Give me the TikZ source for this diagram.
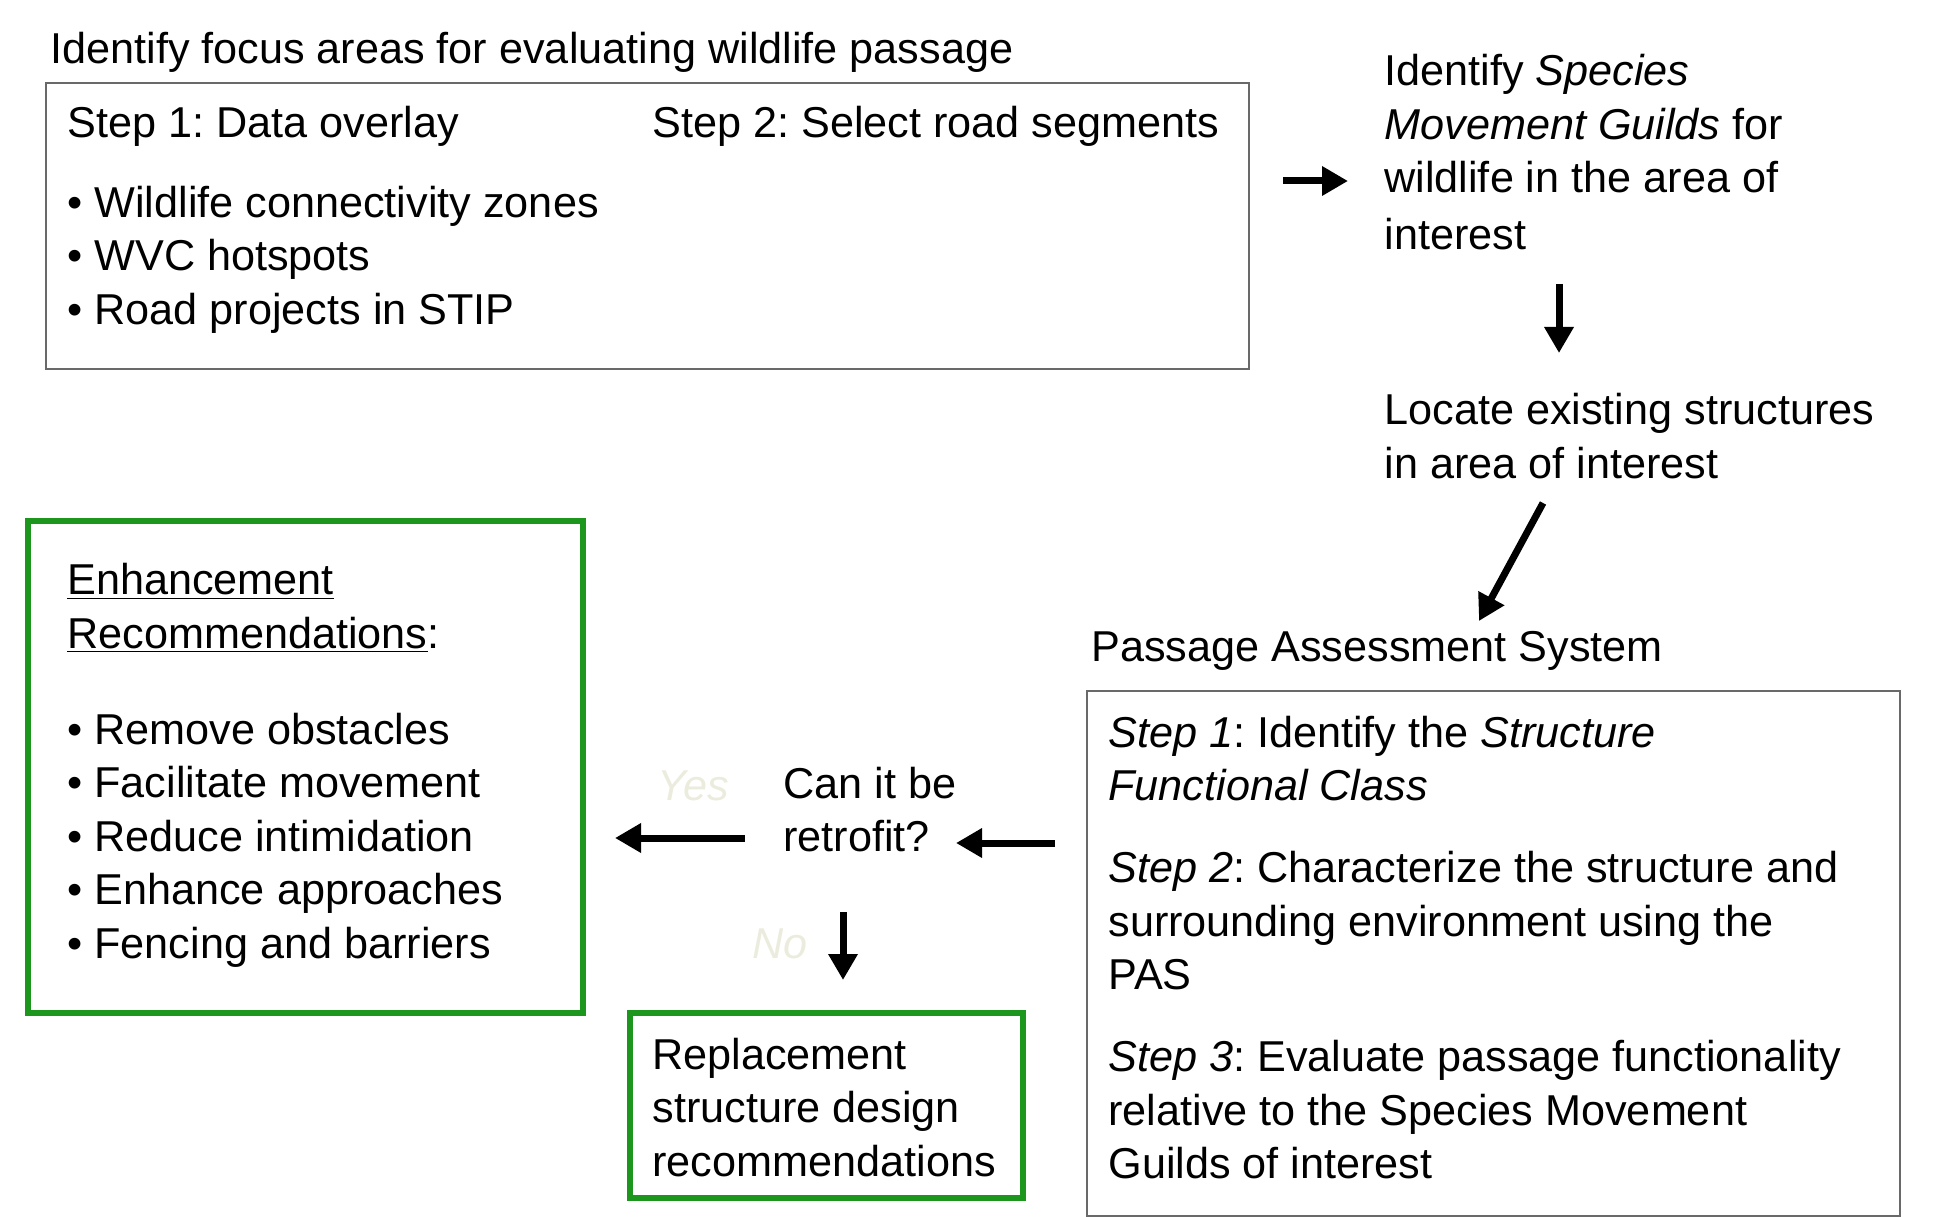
\documentclass[tikz,border=0pt]{standalone}
\usepackage{fontspec}
\setmainfont{Liberation Sans}
\usetikzlibrary{arrows.meta}
\definecolor{boxgray}{RGB}{105,105,105}
\definecolor{boxgreen}{RGB}{28,150,28}
\definecolor{faint}{RGB}{236,236,222}
\newcommand{\blk}[1]{\begin{tabular}[t]{@{}l@{}}#1\end{tabular}}
\frenchspacing
\begin{document}
\begin{tikzpicture}[x=0.5pt,y=-0.5pt,
  txt/.style={anchor=base west, inner sep=0pt, font=\fontsize{21.6pt}{26.75pt}\selectfont},
  faintlbl/.style={txt, text=faint, font=\fontsize{21.6pt}{26.75pt}\selectfont\itshape},
  graybox/.style={draw=boxgray, line width=1.2pt},
  greenbox/.style={draw=boxgreen, line width=2.6pt},
  arr/.style={line width=3.5pt, -{Triangle[length=13pt,width=14pt]}},
]
\useasboundingbox (0,0) rectangle (1941,1218);

% boxes
\draw[graybox] (46,83) rectangle (1249,369);
\draw[graybox] (1087,691) rectangle (1900,1216);
\draw[greenbox] (28,521) rectangle (583,1013);
\draw[greenbox] (630,1013) rectangle (1023,1198);

% texts
\node[txt] (title) at (50,64) {Identify focus areas for evaluating wildlife passage};
\node[txt] (s1) at (67,138) {\blk{Step 1: Data overlay\\[13pt] • Wildlife connectivity zones\\ • WVC hotspots\\ • Road projects in STIP}};
\node[txt] (s2) at (652,138) {Step 2: Select road segments};
\node[txt] (smg) at (1384,86) {\blk{Identify \textit{Species}\\ \textit{Movement Guilds} for\\ wildlife in the area of\\[1.5pt] interest}};
\node[txt] (loc) at (1384,425) {\blk{Locate existing structures\\ in area of interest}};
\node[txt] (pas) at (1091,661) {Passage Assessment System};
\node[txt] (pasb) at (1108,747) {\blk{\textit{Step 1}: Identify the \textit{Structure}\\ \textit{Functional Class}\\[14.25pt]
  \textit{Step 2}: Characterize the structure and\\ surrounding environment using the\\ PAS\\[14.25pt]
  \textit{Step 3}: Evaluate passage functionality\\ relative to the Species Movement\\ Guilds of interest}};
\node[txt] (enh) at (67,595) {\blk{\underline{Enhancement}\\ \underline{Recommendations}:\\[21pt]
  • Remove obstacles\\ • Facilitate movement\\ • Reduce intimidation\\ • Enhance approaches\\ • Fencing and barriers}};
\node[txt] (q) at (783,798) {\blk{Can it be\\ retrofit?}};
\node[faintlbl] (yes) at (657,800) {Yes};
\node[faintlbl] (no) at (752,958) {No};
\node[txt] (rep) at (652,1069) {\blk{Replacement\\ structure design\\ recommendations}};

% arrow end points
\coordinate (a1s) at (1283,181);
\coordinate (a1e) at (1348,181);
\coordinate (a2s) at (1559,284);
\coordinate (a2e) at (1559,353);
\coordinate (a3s) at (1543,503);
\coordinate (a3e) at (1479,621);
\coordinate (a4s) at (1055,843);
\coordinate (a4e) at (956,843);
\coordinate (a5s) at (745,838);
\coordinate (a5e) at (615,838);
\coordinate (a6s) at (843,912);
\coordinate (a6e) at (843,980);

\draw[arr] (a1s) -- (a1e);
\draw[arr] (a2s) -- (a2e);
\draw[arr] (a3s) -- (a3e);
\draw[arr] (a4s) -- (a4e);
\draw[arr] (a5s) -- (a5e);
\draw[arr] (a6s) -- (a6e);
\end{tikzpicture}
\end{document}
